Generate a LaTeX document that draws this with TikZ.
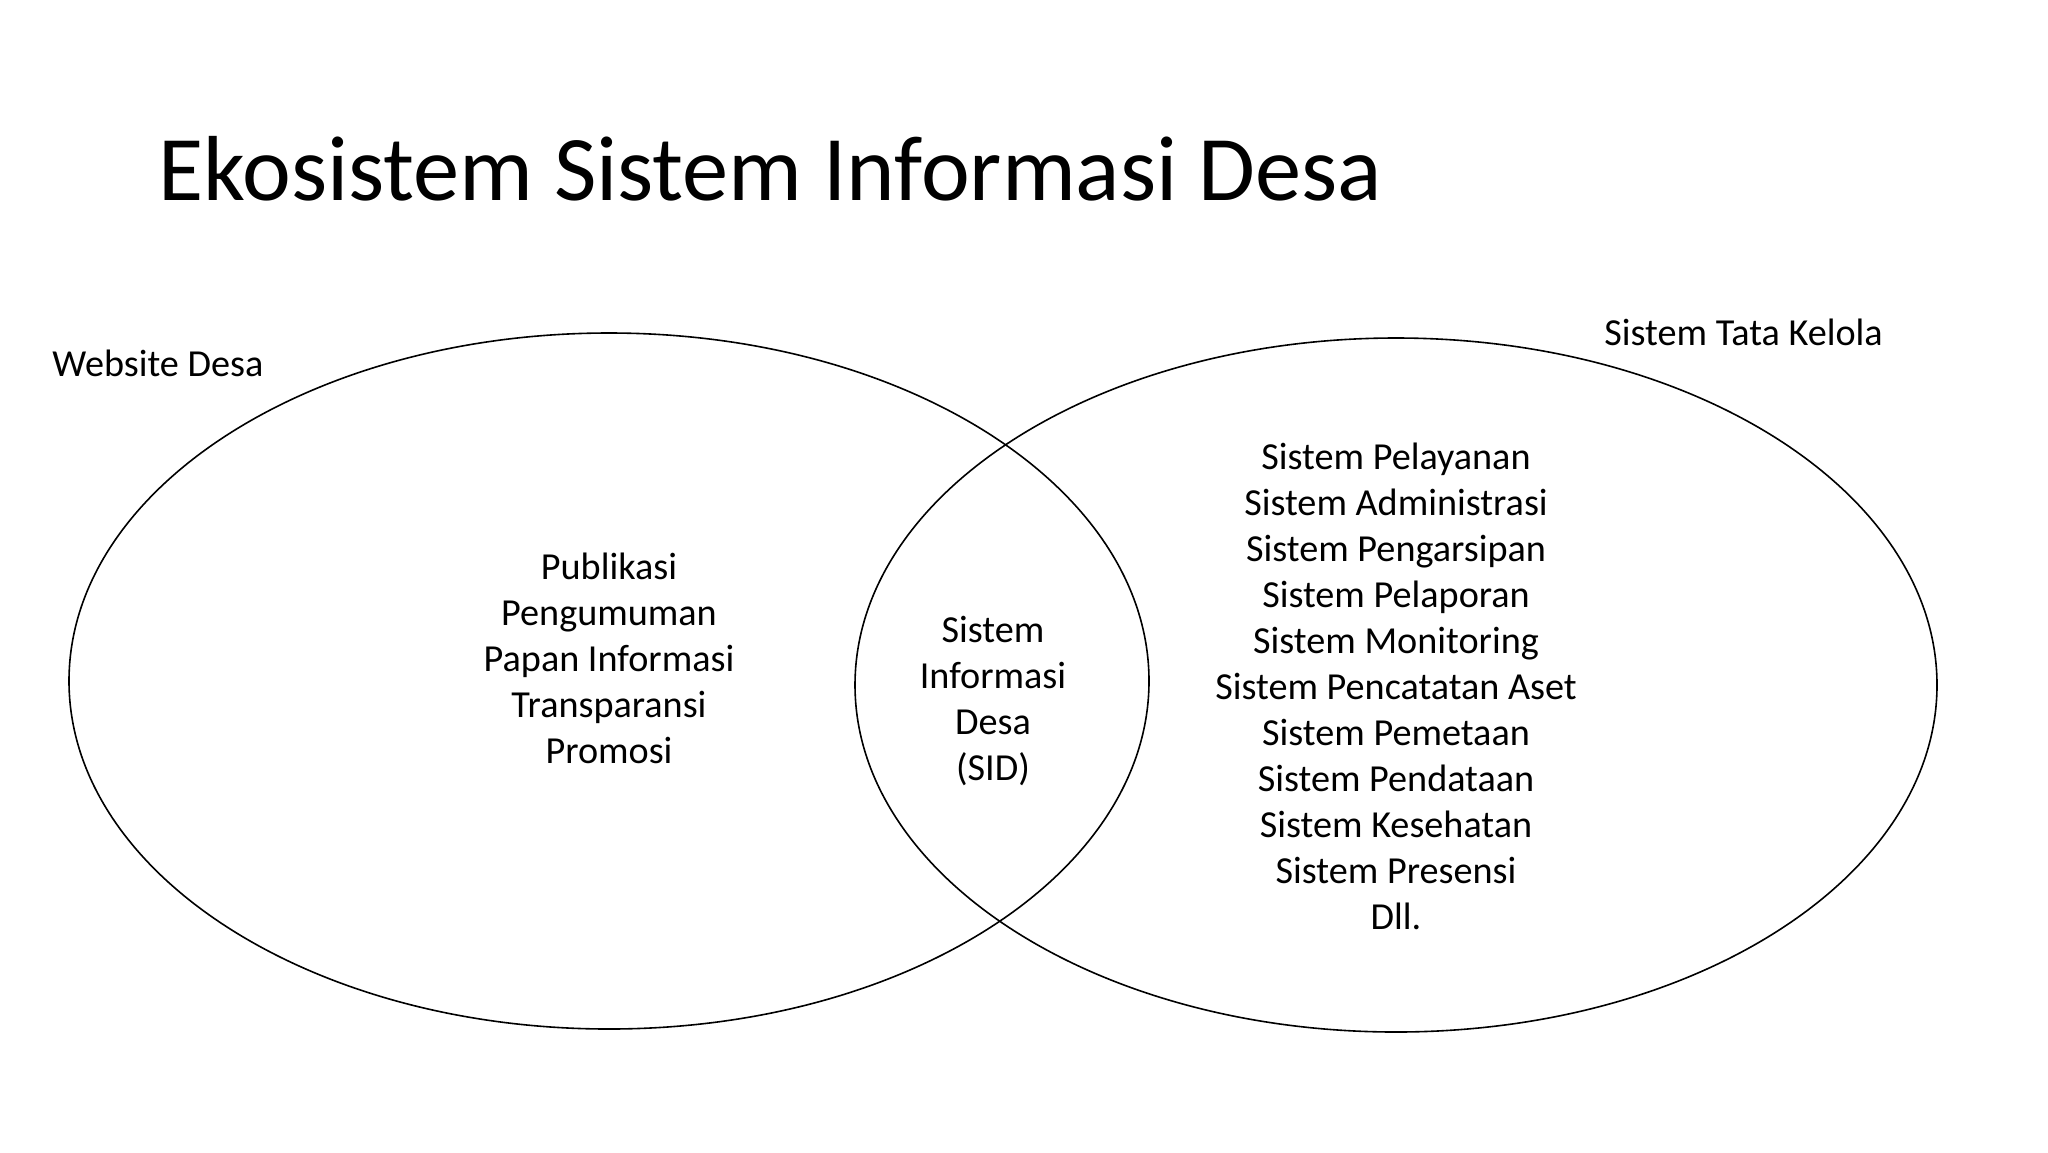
\documentclass[tikz,border=0pt]{standalone}
\usepackage{fontspec}
\setmainfont{Carlito}
\usetikzlibrary{shapes.geometric}
\tikzset{
  setshape/.style={draw=black, line width=0.8pt, ellipse, inner sep=0pt},
  label/.style={inner sep=0pt, align=center, font=\fontsize{19.1}{23}\selectfont},
  titletext/.style={inner sep=0pt, anchor=base west, font=\fontsize{46.2}{56}\selectfont}
}
\begin{document}
\begin{tikzpicture}[x=0.5pt, y=-0.5pt]
\fill[white] (0,0) rectangle (2048,1152);
\useasboundingbox (0,0) rectangle (2048,1152);
\node[titletext] (title) at (158,200) {Ekosistem Sistem Informasi Desa};
\node[setshape, minimum width=540pt, minimum height=348pt] (web) at (609,681) {};
\node[setshape, minimum width=541pt, minimum height=347pt] (tata) at (1396,685) {};
\node[label, anchor=base west] (weblbl) at (52,376) {Website Desa};
\node[label, anchor=base west] (tatalbl) at (1604,345) {Sistem Tata Kelola};
\node[label] (left) at (609,658) {Publikasi\\Pengumuman\\Papan Informasi\\Transparansi\\Promosi};
\node[label] (mid) at (993,701) {Sistem\\Informasi\\Desa\\(SID)};
\node[label] (right) at (1396,686) {Sistem Pelayanan\\Sistem Administrasi\\Sistem Pengarsipan\\Sistem Pelaporan\\Sistem Monitoring\\Sistem Pencatatan Aset\\Sistem Pemetaan\\Sistem Pendataan\\Sistem Kesehatan\\Sistem Presensi\\Dll.};
\end{tikzpicture}
\end{document}
